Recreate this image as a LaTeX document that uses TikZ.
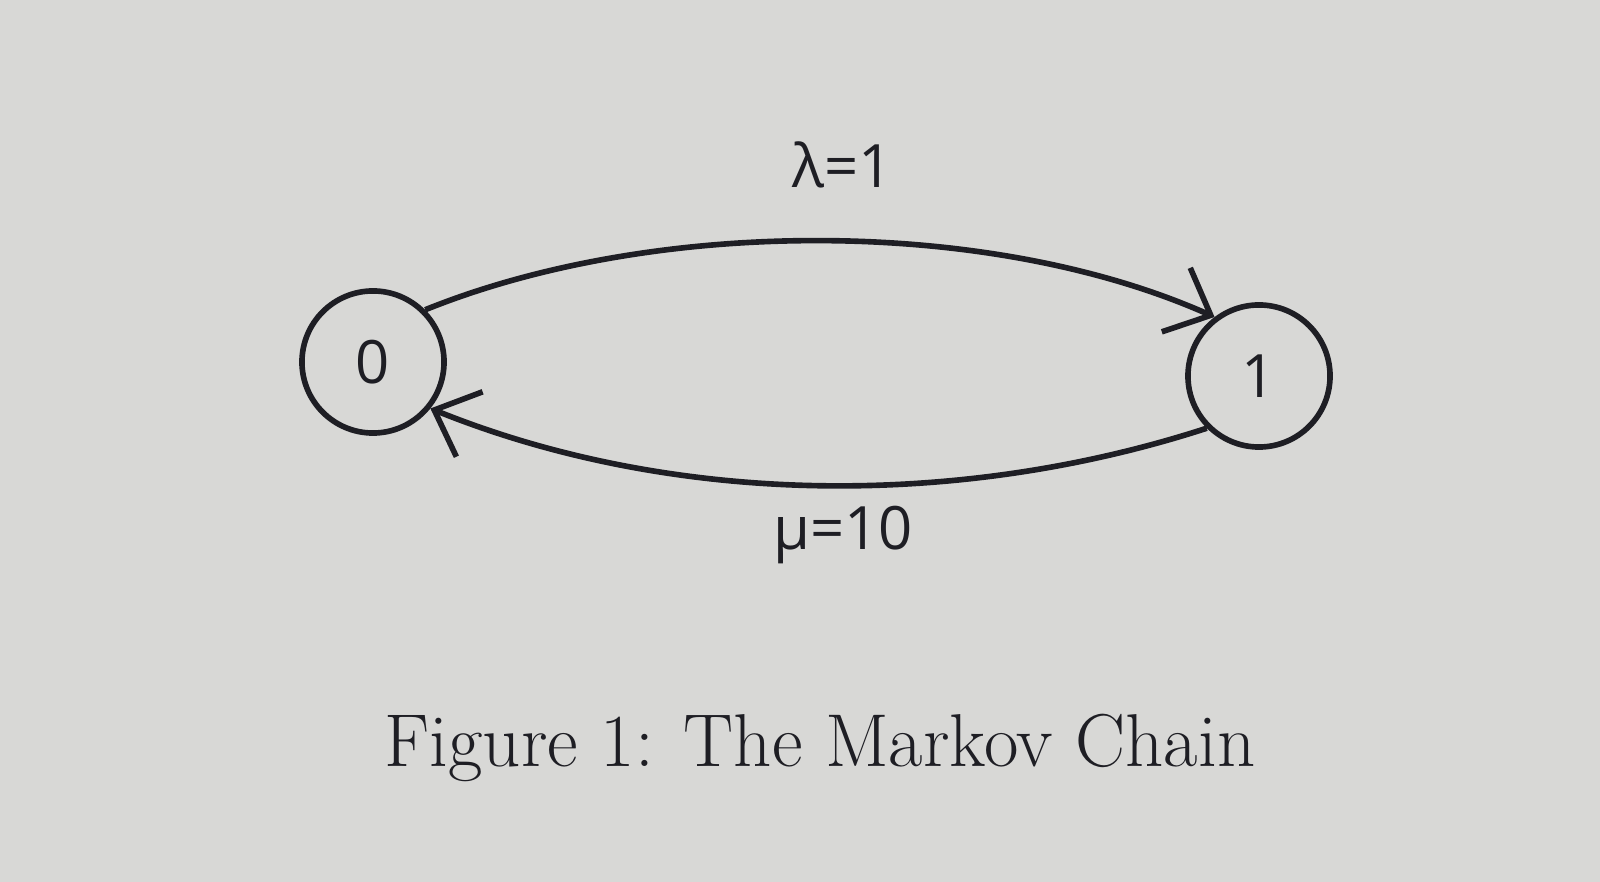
\documentclass[tikz,border=0pt]{standalone}
\usepackage{fontspec}
\newfontfamily\statefont{Open Sans}
\usepackage{tikz}
\usetikzlibrary{arrows.meta}
\usepackage{xcolor}
\definecolor{screengray}{RGB}{216,216,214}
\definecolor{inkdark}{RGB}{30,30,36}

\begin{document}
\begin{tikzpicture}[
  x=0.01cm, y=0.01cm,
  chainstate/.style={circle, draw=inkdark, line width=1.6pt, minimum size=1.42cm, inner sep=0pt, text=inkdark, font=\statefont\fontsize{17}{20}\selectfont},
  rate/.style={anchor=base, inner sep=0pt, text=inkdark, font=\statefont\fontsize{17}{20}\selectfont},
  arr/.style={-{Straight Barb[length=3.8mm, width=7mm]}, line width=1.6pt, color=inkdark}
]
\fill[screengray] (0,0) rectangle (1600,882);
\useasboundingbox (0,0) rectangle (1600,882);
\node[chainstate] (s0) at (373,520) {0};
\node[chainstate] (s1) at (1259,506) {1};
\node[rate] (lam) at (843,694) {λ=1};
\node[rate] (mu) at (843,332) {μ=10};
\node[anchor=base, inner sep=0pt, text=inkdark, font=\fontsize{21.3}{25}\selectfont] (cap) at (820,115) {Figure 1: The Markov Chain};
\draw[arr] (s0.45) to[out=22, in=156, looseness=0.8] (s1.127);
\draw[arr] (s1.225) to[out=198, in=-22, looseness=0.86] (s0.-39);
\end{tikzpicture}
\end{document}
